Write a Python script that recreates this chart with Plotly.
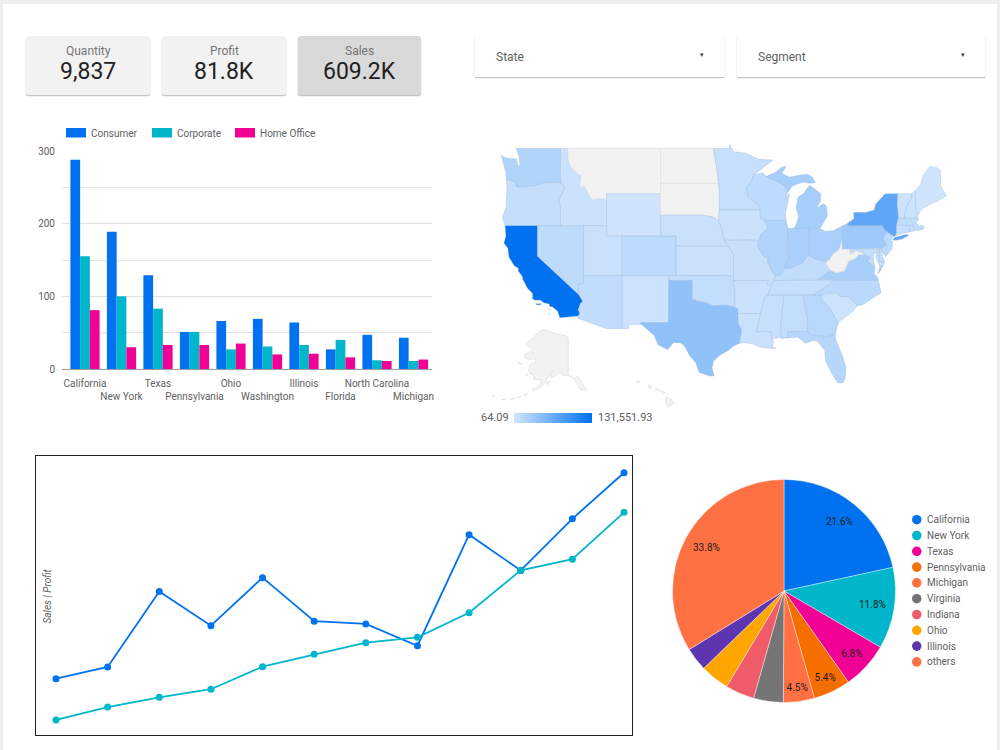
import math
import plotly.graph_objects as go
from plotly.colors import sample_colorscale

# ---------- data ----------
scorecard_titles = ["Quantity", "Profit", "Sales"]
scorecard_values = ["9,837", "81.8K", "609.2K"]
filter_labels = ["State", "Segment"]

bar_states = ["California", "New York", "Texas", "Pennsylvania", "Ohio",
              "Washington", "Illinois", "Florida", "North Carolina", "Michigan"]
consumer = [288, 189, 129, 51, 66, 69, 64, 27, 47, 43]
corporate = [155, 100, 83, 51, 27, 31, 33, 40, 12, 11]
home_office = [81, 30, 33, 33, 35, 20, 21, 16, 11, 13]
segment_names = ["Consumer", "Corporate", "Home Office"]

months = [1, 2, 3, 4, 5, 6, 7, 8, 9, 10, 11, 12]
sales_share = [20.2, 24.4, 51.4, 39.2, 56.4, 40.8, 39.8, 32.0, 71.8, 59.0, 77.5, 94.0]
profit_share = [5.4, 10.0, 13.5, 16.4, 24.5, 28.9, 33.1, 35.0, 43.8, 59.0, 63.0, 79.8]

pie_labels = ["California", "New York", "Texas", "Pennsylvania", "Michigan",
              "Virginia", "Indiana", "Ohio", "Illinois", "others"]
pie_values = [21.6, 11.8, 6.8, 5.4, 4.5, 4.3, 4.2, 4.2, 3.4, 33.8]
pie_inside_text = ["", "", "6.8%", "5.4%", "4.5%", "", "", "", "", ""]
pie_outer_text = ["21.6%", "11.8%", "", "", "", "", "", "", "", "33.8%"]
pie_colors = ["#0072f0", "#00b6cb", "#f10096", "#f66d00", "#ff7043",
              "#757575", "#ef5b69", "#ffa600", "#5e35b1", "#ff7043"]

map_min, map_max = 64.09, 131551.93
state_sales = {
    "CA": 131551.93, "NY": 71900, "TX": 41400, "PA": 32900, "MI": 27400, "VA": 26200,
    "IN": 25600, "OH": 25600, "IL": 20700, "WA": 21000, "OR": 9000, "NV": 12000,
    "ID": 5000, "UT": 5500, "WY": 1500, "CO": 13000, "AZ": 11000, "NM": 3500, "NE": 6000,
    "KS": 6000, "OK": 9500, "MN": 7500, "IA": 4500, "MO": 6500, "AR": 5000, "LA": 5500,
    "MS": 8000, "AL": 9500, "TN": 8500, "KY": 10000, "WI": 13000, "GA": 17000, "FL": 17500,
    "SC": 4000, "NC": 15000, "NJ": 14000, "DE": 8000, "MD": 9000, "DC": 64.09, "CT": 8000,
    "RI": 6000, "MA": 11000, "VT": 3500, "NH": 4000, "ME": 1300,
}
no_data_states = ["MT", "ND", "SD", "WV", "AK", "HI"]

# state outlines as lon/lat rings (simplified geography)
state_rings = {
    "WA": [[(-122.8,49),(-117.03,49),(-117.04,46.42),(-116.92,45.99),(-118.98,46),(-119.3,45.93),(-120.5,45.7),(-121.2,45.65),(-122.2,45.58),(-122.75,45.65),(-122.9,46.1),(-123.4,46.2),(-124.05,46.27),(-124.1,46.9),(-124.4,47.6),(-124.7,48.38),(-123.9,48.17),(-123.1,48.15),(-122.75,48.1),(-122.5,47.4),(-122.3,47.6),(-122.4,48.3)]],
    "OR": [[(-124.05,46.27),(-123.4,46.2),(-122.9,46.1),(-122.75,45.65),(-122.2,45.58),(-121.2,45.65),(-120.5,45.7),(-119.3,45.93),(-118.98,46),(-116.92,45.99),(-116.46,45.6),(-116.85,44.95),(-117.22,44.35),(-117.03,43.8),(-117.03,42),(-124.21,42),(-124.55,42.84),(-124.1,43.7),(-124.05,44.7),(-123.95,45.5)]],
    "CA": [[(-124.21,42),(-120,42),(-120,39),(-114.63,35),(-114.14,34.3),(-114.43,34.1),(-114.72,33.4),(-114.52,33.03),(-114.72,32.72),(-117.12,32.53),(-117.25,32.87),(-117.4,33.25),(-118.1,33.72),(-118.4,33.74),(-118.52,34.03),(-119.2,34.15),(-119.6,34.42),(-120.47,34.45),(-120.65,34.6),(-120.65,35.15),(-121.3,35.7),(-121.9,36.6),(-122,36.95),(-122.5,37.5),(-122.5,37.8),(-123,38),(-123.7,38.9),(-123.85,39.8),(-124.35,40.3),(-124.1,41)],
           [(-120.2,34.05),(-119.5,34.05),(-119.6,33.93),(-120.15,33.93)], [(-118.6,33.48),(-118.3,33.35),(-118.35,33.3),(-118.6,33.42)], [(-118.6,33.02),(-118.35,32.82),(-118.4,32.8),(-118.6,33)]],
    "NV": [[(-120,42),(-114.04,42),(-114.04,36.2),(-114.75,36.1),(-114.63,35),(-120,39)]],
    "ID": [[(-117.03,49),(-116.05,49),(-116.05,48),(-115.7,47.45),(-114.7,46.7),(-114.35,46.65),(-114.5,45.55),(-113.95,45.7),(-113.45,45.05),(-113,44.45),(-112.3,44.55),(-111.5,44.55),(-111.05,44.47),(-111.05,42),(-117.03,42),(-117.03,43.8),(-117.22,44.35),(-116.85,44.95),(-116.46,45.6),(-116.92,45.99),(-117.04,46.42)]],
    "MT": [[(-116.05,49),(-104.05,49),(-104.05,45),(-111.05,45),(-111.05,44.47),(-111.5,44.55),(-112.3,44.55),(-113,44.45),(-113.45,45.05),(-113.95,45.7),(-114.5,45.55),(-114.35,46.65),(-114.7,46.7),(-115.7,47.45),(-116.05,48)]],
    "WY": [[(-111.05,45),(-104.05,45),(-104.05,41),(-111.05,41)]],
    "UT": [[(-114.04,42),(-111.05,42),(-111.05,41),(-109.05,41),(-109.05,37),(-114.04,37)]],
    "CO": [[(-109.05,41),(-102.05,41),(-102.05,37),(-109.05,37)]],
    "AZ": [[(-114.04,37),(-109.05,37),(-109.05,31.33),(-111.07,31.33),(-114.81,32.5),(-114.72,32.72),(-114.52,33.03),(-114.72,33.4),(-114.43,34.1),(-114.14,34.3),(-114.63,35),(-114.75,36.1),(-114.04,36.2)]],
    "NM": [[(-109.05,37),(-103,37),(-103.04,32),(-106.62,32),(-106.53,31.78),(-108.21,31.78),(-108.21,31.33),(-109.05,31.33)]],
    "ND": [[(-104.05,49),(-97.23,49),(-96.85,47.5),(-96.56,45.94),(-104.05,45.94)]],
    "SD": [[(-104.05,45.94),(-96.56,45.94),(-96.45,45.3),(-96.45,43.5),(-96.6,42.5),(-97.3,42.85),(-98.5,43),(-104.05,43)]],
    "NE": [[(-104.05,43),(-98.5,43),(-97.3,42.85),(-96.6,42.5),(-96.1,41.7),(-95.85,40.7),(-95.31,40),(-102.05,40),(-102.05,41),(-104.05,41)]],
    "KS": [[(-102.05,40),(-95.31,40),(-95.1,39.85),(-94.61,39.1),(-94.62,37),(-102.05,37)]],
    "OK": [[(-103,37),(-94.62,37),(-94.43,35.4),(-94.48,33.64),(-95.5,33.9),(-96.6,33.85),(-97.2,33.8),(-98.1,34.13),(-99.2,34.3),(-100,34.56),(-100,36.5),(-103,36.5)]],
    "TX": [[(-106.62,32),(-103.04,32),(-103,36.5),(-100,36.5),(-100,34.56),(-99.2,34.3),(-98.1,34.13),(-97.2,33.8),(-96.6,33.85),(-95.5,33.9),(-94.48,33.64),(-94.04,33.55),(-94.04,33),(-94.04,31.99),(-93.55,31.18),(-93.7,30.3),(-93.85,29.7),(-94.7,29.35),(-95.2,28.95),(-96.4,28.35),(-97.2,27.7),(-97.4,26.9),(-97.15,25.96),(-97.65,25.95),(-99.1,26.4),(-99.5,27.5),(-100.3,28.3),(-100.95,29.37),(-101.5,29.77),(-102.4,29.77),(-103.15,28.98),(-104.4,29.55),(-104.9,30.6),(-106.53,31.78)]],
    "MN": [[(-97.23,49),(-95.15,49),(-95.15,49.38),(-94.6,48.72),(-93,48.6),(-91.4,48.07),(-89.5,48),(-92,46.7),(-92.3,46.1),(-92.9,45.6),(-92.75,44.75),(-91.25,43.85),(-91.22,43.5),(-96.45,43.5),(-96.45,45.3),(-96.56,45.94),(-96.85,47.5)]],
    "IA": [[(-96.45,43.5),(-91.22,43.5),(-91.1,42.7),(-90.65,42.5),(-90.15,41.8),(-91.05,41.2),(-91.4,40.4),(-91.72,40.6),(-95.75,40.58),(-95.85,40.7),(-96.1,41.7),(-96.6,42.5)]],
    "MO": [[(-95.75,40.58),(-91.72,40.6),(-91.4,40.4),(-91.5,40),(-90.7,39),(-90.15,38.8),(-90.2,38.4),(-89.5,37.3),(-89.13,36.98),(-89.42,36.5),(-89.7,36),(-90.37,36),(-90.15,36.5),(-94.62,36.5),(-94.62,37),(-94.61,39.1),(-95.1,39.85),(-95.31,40)]],
    "AR": [[(-94.62,36.5),(-90.15,36.5),(-90.37,36),(-89.7,36),(-90.1,35.1),(-90.6,34.7),(-91.15,33),(-94.04,33),(-94.04,33.55),(-94.48,33.64),(-94.43,35.4)]],
    "LA": [[(-94.04,33),(-91.15,33),(-91.6,31),(-89.73,31),(-89.6,30.2),(-89.4,29.8),(-89.6,29.3),(-89.1,29.1),(-90.1,29.15),(-91.3,29.3),(-92,29.6),(-93.2,29.77),(-93.85,29.7),(-93.7,30.3),(-93.55,31.18),(-94.04,31.99)]],
    "MS": [[(-91.15,33),(-90.6,34.7),(-90.3,35),(-88.2,35),(-88.1,34.9),(-88.47,31.9),(-88.4,30.37),(-89.6,30.2),(-89.73,31),(-91.6,31)]],
    "AL": [[(-88.2,35),(-85.6,35),(-85.18,32.87),(-85,32.3),(-85.05,31.5),(-85,31),(-87.6,31),(-87.5,30.3),(-88.4,30.25),(-88.47,31.9),(-88.1,34.9)]],
    "TN": [[(-90.3,35),(-90.1,35.1),(-89.7,36),(-89.42,36.5),(-88.05,36.5),(-81.68,36.59),(-82.1,36.1),(-84.32,35),(-85.6,35)]],
    "KY": [[(-89.42,36.5),(-89.13,36.98),(-88.5,37.1),(-88,37.8),(-87.1,37.8),(-86.3,38.15),(-85.7,38.3),(-85.4,38.73),(-84.8,39.1),(-84.2,38.8),(-83.7,38.65),(-82.6,38.42),(-82.6,38.15),(-81.97,37.54),(-83.67,36.6)]],
    "IL": [[(-91.5,40),(-91.4,40.4),(-91.05,41.2),(-90.15,41.8),(-90.65,42.5),(-87.8,42.5),(-87.55,41.75),(-87.53,39.35),(-87.6,38.7),(-88,37.8),(-88.5,37.1),(-89.13,36.98),(-89.5,37.3),(-90.2,38.4),(-90.15,38.8),(-90.7,39)]],
    "IN": [[(-87.53,41.72),(-87,41.7),(-86.8,41.76),(-84.8,41.76),(-84.8,39.1),(-85.4,38.73),(-85.7,38.3),(-86.3,38.15),(-87.1,37.8),(-88,37.8),(-87.6,38.7),(-87.53,39.35)]],
    "OH": [[(-84.8,41.7),(-83.45,41.72),(-82.7,41.45),(-81.7,41.5),(-80.52,41.98),(-80.52,40.64),(-80.9,39.7),(-81.7,39.2),(-82.2,38.6),(-82.6,38.42),(-83.7,38.65),(-84.2,38.8),(-84.8,39.1)]],
    "MI": [[(-86.8,41.76),(-84.8,41.76),(-84.8,41.7),(-83.45,41.72),(-83.15,42.05),(-82.45,42.95),(-82.6,43.9),(-83,44.07),(-83.9,43.65),(-83.35,44.3),(-83.3,45),(-84.75,45.78),(-85.6,45),(-86.25,44.7),(-86.5,43.7),(-86.2,42.9),(-86.5,42.1)],
           [(-90.4,46.55),(-89.1,46.95),(-88.4,47.37),(-87.8,47.45),(-88.4,46.85),(-87.4,46.5),(-86.1,46.67),(-85,46.75),(-84.4,46.5),(-84,46),(-84.7,45.95),(-85.6,46.05),(-86.5,45.85),(-87,45.7),(-87.6,45.1),(-88.1,45.8),(-89.1,46.1)]],
    "WI": [[(-92,46.7),(-90.8,46.9),(-90.4,46.55),(-89.1,46.1),(-88.1,45.8),(-87.6,45.1),(-88,44.55),(-87.4,45),(-87.55,44.3),(-87.9,43.2),(-87.8,42.5),(-90.65,42.5),(-91.1,42.7),(-91.22,43.5),(-91.25,43.85),(-92.75,44.75),(-92.9,45.6),(-92.3,46.1)]],
    "GA": [[(-85.6,35),(-84.32,35),(-83.1,35),(-83.35,34.7),(-82.6,34),(-81.9,33.3),(-81.4,32.5),(-81,32.05),(-81.2,31.5),(-81.45,30.72),(-82.2,30.57),(-82.05,30.36),(-84.86,30.7),(-85,31),(-85.05,31.5),(-85,32.3),(-85.18,32.87)]],
    "FL": [[(-87.6,31),(-85,31),(-84.86,30.7),(-82.05,30.36),(-82.2,30.57),(-81.45,30.72),(-81.3,29.9),(-80.55,28.4),(-80.05,26.9),(-80.15,25.75),(-80.4,25.2),(-81.1,25.15),(-81.8,26.1),(-82.7,27.7),(-82.8,28.9),(-83.7,29.9),(-84.2,30.05),(-85.3,29.7),(-86.3,30.4),(-87.5,30.3)]],
    "SC": [[(-83.1,35),(-82.4,35.2),(-81.05,35.15),(-80.8,34.82),(-79.67,34.8),(-78.55,33.86),(-79.2,33.2),(-80.4,32.4),(-81,32.05),(-81.4,32.5),(-81.9,33.3),(-82.6,34),(-83.35,34.7)]],
    "NC": [[(-84.32,35),(-82.1,36.1),(-81.68,36.59),(-75.87,36.55),(-75.5,35.25),(-76.5,34.7),(-77.9,33.93),(-78.55,33.86),(-79.67,34.8),(-80.8,34.82),(-81.05,35.15),(-82.4,35.2),(-83.1,35)]],
    "VA": [[(-83.67,36.6),(-81.97,37.54),(-81.3,37.3),(-80.3,37.5),(-79.7,38.5),(-78.87,38.76),(-78.4,39.17),(-77.83,39.13),(-77.72,39.32),(-77.05,38.85),(-77.25,38.4),(-76.3,37.95),(-76.4,37.2),(-76,36.9),(-75.87,36.55),(-81.68,36.59)],
           [(-75.95,37.15),(-75.65,37.95),(-75.25,38.03),(-75.6,37.5)]],
    "WV": [[(-82.6,38.15),(-82.6,38.42),(-82.2,38.6),(-81.7,39.2),(-80.9,39.7),(-80.52,40.64),(-80.52,39.72),(-79.48,39.72),(-79.48,39.2),(-78.8,39.6),(-77.72,39.32),(-77.83,39.13),(-78.4,39.17),(-78.87,38.76),(-79.7,38.5),(-80.3,37.5),(-81.3,37.3),(-81.97,37.54)]],
    "PA": [[(-80.52,41.98),(-79.76,42.27),(-79.76,42),(-75.35,42),(-75.05,41.6),(-74.7,41.36),(-75.13,40.98),(-75.2,40.65),(-74.72,40.15),(-75.4,39.8),(-80.52,39.72),(-80.52,40.64)]],
    "NY": [[(-79.76,42.27),(-79,42.7),(-79.05,43.27),(-77.5,43.25),(-76.4,43.5),(-76.2,44.05),(-75,44.97),(-74.7,45),(-73.35,45),(-73.4,44),(-73.25,42.75),(-73.5,42.05),(-73.5,41.3),(-73.66,41),(-73.92,40.95),(-74.7,41.36),(-75.05,41.6),(-75.35,42),(-79.76,42)],
           [(-74,40.6),(-73.75,40.85),(-72.3,41.15),(-71.87,41.07),(-72.8,40.7),(-73.6,40.58)]],
    "NJ": [[(-74.7,41.36),(-73.92,41),(-74.25,40.5),(-74,40.45),(-74.1,39.75),(-74.9,38.95),(-75.5,39.5),(-75.4,39.8),(-74.72,40.15),(-75.2,40.65),(-75.13,40.98)]],
    "DE": [[(-75.79,39.72),(-75.4,39.8),(-75.55,39.45),(-75.05,38.45),(-75.7,38.46)]],
    "MD": [[(-79.48,39.72),(-75.79,39.72),(-75.7,38.46),(-75.05,38.45),(-75.25,38.03),(-75.65,37.95),(-76.2,38.9),(-76.05,39.4),(-76.5,39.2),(-76.5,38.4),(-76.3,38.05),(-77.25,38.4),(-77.05,38.85),(-77.72,39.32),(-78.8,39.6),(-79.48,39.2)]],
    "DC": [[(-77.12,38.93),(-77.04,39),(-76.91,38.89),(-77.04,38.79)]],
    "CT": [[(-73.5,42.05),(-71.8,42.02),(-71.8,41.4),(-72.9,41.25),(-73.66,41),(-73.5,41.3)]],
    "RI": [[(-71.8,42.02),(-71.38,42.02),(-71.2,41.5),(-71.8,41.4)]],
    "MA": [[(-73.5,42.05),(-73.25,42.75),(-71.3,42.7),(-70.85,42.87),(-70.6,42.65),(-71,42.3),(-70.6,41.95),(-70.25,42.05),(-69.95,41.95),(-70,41.65),(-70.65,41.55),(-71.2,41.5),(-71.38,42.02),(-71.8,42.02)]],
    "VT": [[(-73.35,45),(-71.5,45),(-71.6,44.5),(-72.05,44.1),(-72.45,43),(-72.45,42.73),(-73.25,42.75),(-73.4,44)]],
    "NH": [[(-71.5,45),(-71.08,45.3),(-70.98,43.4),(-70.7,43.07),(-70.85,42.87),(-71.3,42.7),(-72.45,42.73),(-72.45,43),(-72.05,44.1),(-71.6,44.5)]],
    "ME": [[(-71.08,45.3),(-70.4,45.8),(-70.25,46.2),(-70,46.7),(-69.2,47.45),(-68.3,47.35),(-67.8,47.07),(-67.8,45.7),(-67.45,45.3),(-67,44.85),(-68.2,44.3),(-69,44.1),(-69.8,43.75),(-70.25,43.6),(-70.7,43.07),(-70.98,43.4)]],
    "AK": [[(-141,69.65),(-141,60.3),(-139.5,59.9),(-137.5,58.9),(-135.5,59.8),(-133.5,58.4),(-131.8,56.6),(-130,55.9),(-130,55),(-131.5,55),(-133.5,55.5),(-135,57),(-136.5,58.1),(-138,59),(-140,59.7),(-142,60),(-144.5,60.1),(-146.5,60.9),(-148.3,60),(-150.5,59.3),(-151.8,59.3),(-151,60.8),(-149.5,61.2),(-151.5,60.9),(-153.5,59.5),(-154.5,58.2),(-156.5,56.9),(-158.7,55.9),(-161,55.2),(-163,54.8),(-162.5,55.5),(-160,56),(-158,57.5),(-157.3,58.7),(-159,58.6),(-162,58.7),(-162,60),(-164.5,60.5),(-165.2,61.5),(-164.5,63),(-161,63.7),(-161,64.7),(-164,64.5),(-166.5,64.6),(-168.1,65.6),(-164,66.5),(-162,66.1),(-163.7,67.2),(-166.7,68.35),(-163,69.4),(-159,70.8),(-156.5,71.35),(-152,70.85),(-148,70.4),(-143,70.1)],
           [(-154.5,57.5),(-152.5,58.2),(-152.5,57.5),(-154,56.9)], [(-168.5,53.2),(-166,54),(-166.5,53.5)], [(-172.5,52.4),(-170,52.9),(-170.5,52.5)], [(-177,51.9),(-174,52.3),(-174.5,51.9)], [(-182,51.8),(-179,52),(-180,51.6)], [(-187.2,52.9),(-186,53),(-186.2,52.7)],
           [(-171.5,63.6),(-168.8,63.4),(-170,63.1)], [(-167,60.3),(-165.5,60.2),(-166,59.8)]],
    "HI": [[(-155.9,20.25),(-155.1,19.85),(-154.8,19.5),(-155.65,18.95),(-155.95,19.4)], [(-156.7,20.95),(-156.25,20.95),(-156,20.75),(-156.4,20.6)], [(-158.25,21.55),(-157.95,21.7),(-157.7,21.3),(-158.1,21.3)], [(-159.75,22.1),(-159.4,22.23),(-159.3,21.95),(-159.6,21.9)], [(-157.3,21.2),(-156.75,21.17),(-156.9,21.05),(-157.3,21.1)]],
}

# ---------- styling helpers ----------
W, H = 1000, 750
FONT = "Roboto"
GREY = "#616161"
MAP_LOW, MAP_HIGH = "#d2e6fd", "#0072f0"


def px(x):
    return x / W


def py(y):
    return 1 - y / H


def rounded(x0, y0, x1, y1, r):
    return (f"M{px(x0+r)},{py(y0)} L{px(x1-r)},{py(y0)} Q{px(x1)},{py(y0)} {px(x1)},{py(y0+r)} "
            f"L{px(x1)},{py(y1-r)} Q{px(x1)},{py(y1)} {px(x1-r)},{py(y1)} L{px(x0+r)},{py(y1)} "
            f"Q{px(x0)},{py(y1)} {px(x0)},{py(y1-r)} L{px(x0)},{py(y0+r)} Q{px(x0)},{py(y0)} {px(x0+r)},{py(y0)} Z")


def merc(lat):
    return math.log(math.tan(math.pi / 4 + math.radians(lat) / 2))


# projection anchors: main map is Mercator; Alaska is a smaller inset
SCALE = 7.72
RAD = SCALE * 180 / math.pi
X_REF, LON_REF = 660.7, -104.05
Y_REF, MERC_REF = 236.0, merc(41)


def project(state, lon, lat):
    """Return (x, y) on the map axes, which are longitude / Mercator northing."""
    if state == "AK":
        xp = 568.3 + (lon + 141) * 1.64
        yp = 329 + (merc(71.4) - merc(lat)) * 94
        return LON_REF + (xp - X_REF) / SCALE, MERC_REF + (Y_REF - yp) / RAD
    if state == "HI":
        xp = 669 + (lon + 155.5) * SCALE
        yp = 402 - (merc(lat) - merc(19.6)) * RAD
        return LON_REF + (xp - X_REF) / SCALE, MERC_REF + (Y_REF - yp) / RAD
    return lon, merc(lat)


fig = go.Figure()

# ---------- bars ----------
bar_colors = ["#0072f0", "#00b6cb", "#f10096"]
for name, vals, col in zip(segment_names, [consumer, corporate, home_office], bar_colors):
    fig.add_trace(go.Bar(x=bar_states, y=vals, name=name, marker=dict(color=col, line=dict(width=0)),
                         showlegend=False, xaxis="x", yaxis="y"))

# ---------- line chart ----------
for name, vals, col in zip(["Sales", "Profit"], [sales_share, profit_share], ["#0072f0", "#00b6cb"]):
    fig.add_trace(go.Scatter(x=months, y=vals, name=name, mode="lines+markers",
                             line=dict(color=col, width=1.8), marker=dict(color=col, size=7),
                             showlegend=False, xaxis="x2", yaxis="y2"))

# ---------- map ----------
colorscale = [[0, MAP_LOW], [1, MAP_HIGH]]
for state, rings in state_rings.items():
    xs, ys = [], []
    for ring in rings:
        for lon, lat in ring + [ring[0]]:
            a, b = project(state, lon, lat)
            xs.append(a)
            ys.append(b)
        xs.append(None)
        ys.append(None)
    if state in no_data_states:
        fill, edge = "#f2f2f2", "#e2e2e2"
        label = state
    else:
        t = (state_sales[state] - map_min) / (map_max - map_min)
        fill = sample_colorscale(colorscale, [t])[0]
        edge = "rgba(150,180,215,0.45)"
        label = f"{state}: {state_sales[state]:,.2f}"
    fig.add_trace(go.Scatter(x=xs, y=ys, mode="lines", fill="toself", fillcolor=fill,
                             line=dict(color=edge, width=0.8), name=state, text=label,
                             hoverinfo="text", showlegend=False, xaxis="x3", yaxis="y3"))
# gradient key
fig.add_trace(go.Scatter(x=[-100], y=[merc(40)], mode="markers", hoverinfo="skip", showlegend=False,
                         marker=dict(size=1, opacity=0, color=[map_min], cmin=map_min, cmax=map_max,
                                     colorscale=colorscale, showscale=True,
                                     colorbar=dict(orientation="h", x=px(514), xanchor="left", y=py(423),
                                                   yanchor="bottom", len=78, lenmode="pixels", thickness=10,
                                                   thicknessmode="pixels", outlinewidth=0, showticklabels=False,
                                                   ticks="", xpad=0, ypad=0)),
                         xaxis="x3", yaxis="y3"))

# ---------- pie ----------
PIE_CX, PIE_CY, PIE_R = 784, 591, 111.5
fig.add_trace(go.Pie(labels=pie_labels, values=pie_values, text=pie_inside_text, textinfo="text",
                     textposition="inside", insidetextorientation="horizontal",
                     insidetextfont=dict(color="#212121", size=10, family=FONT),
                     marker=dict(colors=pie_colors, line=dict(color="white", width=0.4)),
                     sort=False, direction="clockwise", rotation=0, showlegend=False,
                     domain=dict(x=[px(PIE_CX - PIE_R), px(PIE_CX + PIE_R)],
                                 y=[py(PIE_CY + PIE_R), py(PIE_CY - PIE_R)])))

# ---------- page furniture ----------
shapes, notes = [], []


def note(text, x, y, size=10, color=GREY, anchor="left", **kw):
    notes.append(dict(text=text, x=px(x), y=py(y), xref="paper", yref="paper", showarrow=False,
                      xanchor=anchor, yanchor="middle", font=dict(family=FONT, size=size, color=color),
                      borderpad=0, **kw))


def rect(x0, y0, x1, y1, color):
    shapes.append(dict(type="rect", xref="paper", yref="paper", x0=px(x0), x1=px(x1), y0=py(y0), y1=py(y1),
                       fillcolor=color, line=dict(width=0), layer="below"))


def card(x0, y0, x1, y1, color, shadow="#c4c4c4", r=3):
    shapes.append(dict(type="path", xref="paper", yref="paper", path=rounded(x0 - 0.5, y0 + 1, x1 + 0.5, y1 + 1.5, r),
                       fillcolor="#e6e6e6", line=dict(width=0), layer="below"))
    shapes.append(dict(type="path", xref="paper", yref="paper", path=rounded(x0, y0 + 1, x1, y1 + 1, r),
                       fillcolor=shadow, line=dict(width=0), layer="below"))
    shapes.append(dict(type="path", xref="paper", yref="paper", path=rounded(x0, y0, x1, y1, r),
                       fillcolor=color, line=dict(width=0), layer="below"))


rect(0, 0, W, 4, "#eeeeee")
rect(0, 0, 3, H, "#eeeeee")
rect(997, 0, W, H, "#eeeeee")

card_x = [(26, 150), (162, 286), (298, 421)]
card_fill = ["#f2f2f2", "#f2f2f2", "#d9d9d9"]
for (x0, x1), col, title, value in zip(card_x, card_fill, scorecard_titles, scorecard_values):
    card(x0, 36, x1, 95, col)
    note(title, (x0 + x1) / 2, 50.5, size=12, color="#757575", anchor="center")
    note(value, (x0 + x1) / 2, 71.5, size=23, color="#212121", anchor="center")

filter_x = [(475, 724), (737, 985)]
for (x0, x1), label in zip(filter_x, filter_labels):
    card(x0, 36, x1, 77, "#ffffff", r=1)
    note(label, x0 + 19.5, 57, size=12, color="#616161")
    note("▾", x1 - 22, 55.5, size=7, color="#424242", anchor="center")

# bar legend
for x0, col, name in zip([66, 152, 235], bar_colors, segment_names):
    rect(x0, 128, x0 + 20, 137.5, col)
    note(name, x0 + 23.7, 133, size=10)

# map key labels
note(f"{map_min:.2f}", 480, 417.5, size=11)
note(f"{map_max:,.2f}", 597, 417.5, size=11)

# line chart vertical title
note("<i>Sales | Profit</i>", 46.5, 596, size=10, anchor="center", textangle=-90)

# larger pie slices carry their labels near the rim
running = 0.0
for value, label in zip(pie_values, pie_outer_text):
    angle = (running + value / 2) / sum(pie_values) * 2 * math.pi
    running += value
    if label:
        note(label, PIE_CX + 0.8 * PIE_R * math.sin(angle), PIE_CY - 0.8 * PIE_R * math.cos(angle),
             size=10, color="#212121", anchor="center")

# pie legend
for i, (name, col) in enumerate(zip(pie_labels, pie_colors)):
    cy = 519.7 + i * 15.8
    shapes.append(dict(type="circle", xref="paper", yref="paper", x0=px(912), x1=px(921.5),
                       y0=py(cy + 4.8), y1=py(cy - 4.8), fillcolor=col, line=dict(width=0)))
    note(name, 925.5, cy, size=10)

BAR_L, BAR_R, BAR_T, BAR_B = 62, 432, 151, 369
LINE_L, LINE_R, LINE_T, LINE_B = 35.5, 632, 456, 735
CAT = 36.5
MAP_L, MAP_R, MAP_T, MAP_B = 480, 970, 140, 410

bar_ticktext = [("<br>" + s if i % 2 else s + "<br> ") for i, s in enumerate(bar_states)]

fig.update_layout(
    width=W, height=H, autosize=False, margin=dict(l=0, r=0, t=0, b=0),
    paper_bgcolor="white", plot_bgcolor="rgba(0,0,0,0)", font=dict(family=FONT, size=10, color=GREY),
    barmode="group", bargap=0.2, bargroupgap=0, shapes=shapes, annotations=notes,
    xaxis=dict(domain=[px(BAR_L), px(BAR_R)], range=[(BAR_L - 85) / CAT, (BAR_R - 85) / CAT],
               anchor="y", type="category", tickmode="array", tickvals=bar_states, ticktext=bar_ticktext,
               showgrid=False, showline=False, zeroline=False, tickfont=dict(size=10, color=GREY),
               ticks="outside", ticklen=5, tickcolor="rgba(0,0,0,0)",
               tickangle=0, automargin=False),
    yaxis=dict(domain=[py(BAR_B), py(BAR_T)], range=[0, 300], anchor="x", tickmode="array",
               tickvals=[0, 50, 100, 150, 200, 250, 300], ticktext=["0", "", "100", "", "200", "", "300"],
               gridcolor="#e0e0e0", gridwidth=1, zeroline=True, zerolinecolor="#9e9e9e", zerolinewidth=1,
               showline=False, tickfont=dict(size=10, color=GREY), ticks="outside", ticklen=4,
               tickcolor="rgba(0,0,0,0)", automargin=False),
    xaxis2=dict(domain=[px(LINE_L), px(LINE_R)], range=[1 - (56 - LINE_L) / 51.64, 12 + (LINE_R - 624) / 51.64],
                anchor="y2", showgrid=False, zeroline=False, showticklabels=False, ticks="",
                showline=True, linecolor="#212121", linewidth=1, mirror=True),
    yaxis2=dict(domain=[py(LINE_B), py(LINE_T)], range=[0, 100], anchor="x2", showgrid=False, zeroline=False,
                showticklabels=False, ticks="", showline=True, linecolor="#212121", linewidth=1, mirror=True),
    xaxis3=dict(domain=[px(MAP_L), px(MAP_R)], anchor="y3",
                range=[LON_REF + (MAP_L - X_REF) / SCALE, LON_REF + (MAP_R - X_REF) / SCALE],
                visible=False, fixedrange=True),
    yaxis3=dict(domain=[py(MAP_B), py(MAP_T)], anchor="x3",
                range=[MERC_REF + (Y_REF - MAP_B) / RAD, MERC_REF + (Y_REF - MAP_T) / RAD],
                visible=False, fixedrange=True),
)

fig.write_html("out.html", config={"displayModeBar": False},
               post_script="document.body.style.margin='0';document.body.style.overflow='hidden';")
